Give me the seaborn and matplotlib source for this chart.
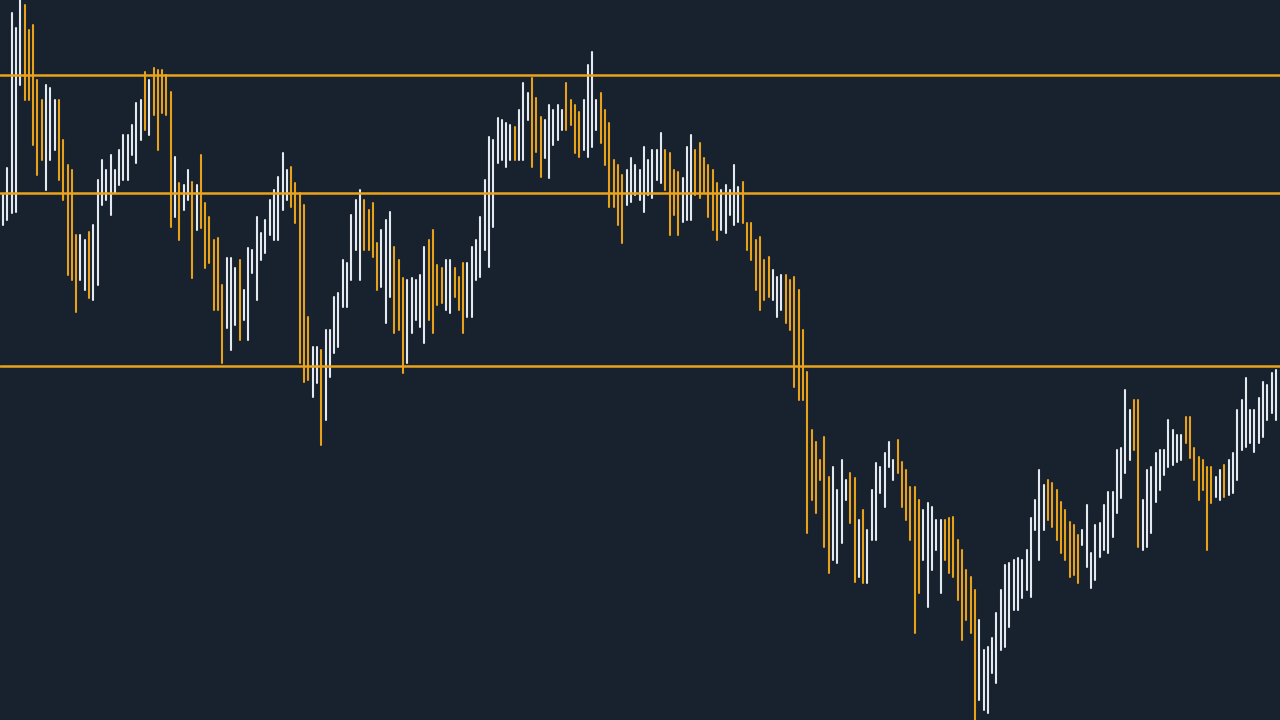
import matplotlib
matplotlib.use("Agg")
import matplotlib.pyplot as plt
import seaborn as sns
import pandas as pd
import numpy as np

sns.set_theme(style="dark")
plt.rcParams["font.family"] = ["DejaVu Sans"]

BG = "#18212e"
UP_COL = "#e4e9f0"
DOWN_COL = "#e8a21a"
LEVEL_COL = "#eaa31c"

# bar highs / lows (price)
highs = [
    1525, 1552, 1707, 1692, 1720, 1715, 1690, 1695, 1640, 1620,
    1635, 1632, 1620, 1620, 1580, 1555, 1550, 1485, 1485, 1480,
    1488, 1495, 1540, 1560, 1550, 1565, 1550, 1570, 1585, 1585,
    1595, 1617, 1620, 1648, 1640, 1652, 1650, 1650, 1645, 1628,
    1563, 1537, 1535, 1550, 1538, 1535, 1565, 1517, 1503, 1480,
    1482, 1435, 1462, 1462, 1452, 1460, 1430, 1472, 1470, 1503,
    1487, 1500, 1520, 1530, 1543, 1567, 1550, 1553, 1537, 1527,
    1515, 1403, 1373, 1373, 1370, 1390, 1390, 1423, 1427, 1460,
    1457, 1505, 1520, 1530, 1520, 1510, 1517, 1477, 1490, 1500,
    1508, 1473, 1460, 1442, 1440, 1442, 1440, 1445, 1473, 1480,
    1490, 1455, 1452, 1460, 1460, 1452, 1443, 1457, 1457, 1473,
    1480, 1503, 1540, 1583, 1580, 1602, 1600, 1597, 1595, 1593,
    1610, 1637, 1627, 1642, 1622, 1603, 1600, 1615, 1610, 1615,
    1610, 1637, 1620, 1615, 1608, 1620, 1655, 1668, 1620, 1627,
    1610, 1597, 1560, 1555, 1545, 1550, 1562, 1555, 1550,
    1573, 1560, 1570, 1570, 1587, 1570, 1567, 1550, 1548, 1542,
    1573, 1585, 1570, 1577, 1562, 1555, 1550, 1537, 1530,
    1535, 1530, 1555, 1533, 1538, 1497, 1497, 1480, 1483, 1460,
    1463, 1450, 1443, 1445, 1445, 1440, 1443, 1430, 1390, 1348,
    1290, 1278, 1260, 1283, 1243, 1253, 1230, 1260, 1240, 1247,
    1242, 1200, 1210, 1190, 1230, 1257, 1253, 1267, 1278, 1260,
    1280, 1258, 1250, 1233, 1233, 1220, 1210, 1217, 1213,
    1200, 1200, 1200, 1202, 1203, 1180, 1170, 1150, 1143, 1130,
    1100, 1070, 1073, 1082, 1107, 1130, 1155, 1157, 1160, 1162,
    1160, 1170, 1202, 1220, 1250, 1235, 1240, 1237,
    1230, 1218, 1210, 1198, 1195, 1185, 1190, 1215, 1167, 1195,
    1197, 1215, 1228, 1228, 1270, 1272, 1330, 1310,
    1320, 1320, 1220, 1250, 1253, 1267, 1270, 1270, 1300,
    1290, 1285, 1285, 1303, 1303, 1272, 1263, 1260, 1253,
    1253, 1243, 1250, 1255, 1260, 1267, 1310, 1320, 1342, 1310,
    1310, 1322, 1338, 1335, 1347, 1350,
]
lows = [
    1495, 1500, 1507, 1508, 1635, 1620, 1620, 1575, 1545, 1560,
    1530, 1560, 1570, 1540, 1520, 1445, 1440, 1408, 1440, 1430,
    1422, 1420, 1435, 1515, 1520, 1505, 1527, 1535, 1540, 1540,
    1565, 1557, 1580, 1590, 1585, 1605, 1570, 1607, 1605, 1493,
    1503, 1480, 1510, 1520, 1442, 1490, 1492, 1452, 1457, 1410,
    1410, 1357, 1392, 1370, 1395, 1380, 1400, 1380, 1447, 1420,
    1460, 1467, 1485, 1480, 1480, 1510, 1520, 1513, 1497, 1357,
    1338, 1340, 1323, 1337, 1275, 1300, 1343, 1367, 1373, 1413,
    1413, 1440, 1470, 1440, 1470, 1470, 1463, 1430, 1433, 1397,
    1423, 1387, 1390, 1347, 1357, 1387, 1400, 1393, 1377, 1400,
    1387, 1415, 1417, 1410, 1407, 1423, 1410, 1387, 1403, 1403,
    1440, 1443, 1470, 1453, 1493, 1557, 1560, 1553, 1560, 1560,
    1560, 1560, 1600, 1553, 1568, 1543, 1562, 1542, 1575, 1580,
    1590, 1590, 1595, 1567, 1563, 1570, 1563, 1573, 1590, 1577,
    1555, 1513, 1513, 1495, 1477, 1515, 1518, 1525, 1520,
    1508, 1525, 1522, 1540, 1537, 1530, 1485, 1505, 1485, 1498,
    1500, 1500, 1525, 1522, 1528, 1503, 1490, 1480, 1490,
    1487, 1505, 1495, 1498, 1497, 1470, 1460, 1430, 1410, 1420,
    1423, 1420, 1403, 1410, 1397, 1390, 1333, 1320, 1320, 1187,
    1220, 1207, 1240, 1173, 1147, 1160, 1157, 1177, 1220, 1197,
    1138, 1143, 1137, 1137, 1180, 1180, 1227, 1213, 1253, 1240,
    1247, 1213, 1200, 1180, 1087, 1127, 1160, 1113, 1150,
    1170, 1127, 1160, 1147, 1143, 1120, 1080, 1100, 1087, 1000,
    1020, 1010, 1007, 1047, 1037, 1070, 1073, 1093, 1110, 1110,
    1122, 1130, 1123, 1190, 1160, 1190, 1200, 1193,
    1180, 1167, 1160, 1143, 1145, 1137, 1175, 1153, 1132, 1140,
    1163, 1170, 1167, 1183, 1207, 1222, 1247, 1260,
    1270, 1173, 1170, 1173, 1187, 1218, 1230, 1245, 1253,
    1255, 1258, 1260, 1277, 1262, 1240, 1220, 1230, 1170,
    1217, 1223, 1220, 1223, 1225, 1227, 1240, 1270, 1273, 1277,
    1268, 1277, 1283, 1300, 1307, 1300,
]
# u = up bar (white), d = down bar (orange); chunks follow the rows above
dirs = list(
    "uuuuuddddd" "uuuddddduu" "duuuuuuuuu" "uuududdddd"
    "uduududddd" "dduuuduuuu" "uuuuuuuddd" "dduuduuuuu"
    "uuuudddduu" "uddduuuuud" "ddduuddduu" "uuuuuuuuud"
    "uuuddduuuu" "udddduuuud" "ddddduuuu" "uuuuuddddu"
    "uuddddddu" "uuuudddddd" "duuudddddd" "ddddduuuud"
    "duduuuuuuu" "dddddduuu" "uudddddddd" "uuuuuuuuuu"
    "uuuuuudd" "dddddduuuu" "uuuuuuuu" "dduuuuuuu"
    "uuudddddd" "duuduuuuuu" "uuuuuu"
)

levels = [1645, 1527, 1354]

n = len(highs)
df = pd.DataFrame({
    "bar": np.repeat(np.arange(n), 2),
    "price": np.column_stack([lows, highs]).ravel(),
    "dir": np.repeat(dirs, 2),
})

fig = plt.figure(figsize=(12.8, 7.2), dpi=100, facecolor=BG)
ax = fig.add_axes([0, 0, 1, 1])
ax.set_facecolor(BG)

sns.lineplot(
    data=df, x="bar", y="price", hue="dir", units="bar",
    estimator=None, sort=False, palette={"u": UP_COL, "d": DOWN_COL},
    linewidth=1.5, legend=False, ax=ax,
)

for lv in levels:
    ax.axhline(lv, color=LEVEL_COL, lw=1.8, zorder=5)

# first bar sits ~3px from the left edge, last ~4px from the right
step = 1273 / (n - 1)
ax.set_xlim(-3 / step, n - 1 + 4 / step)
ax.set_ylim(1000, 1720)
ax.set_axis_off()

fig.savefig("out.png", dpi=100, facecolor=BG)
print(len(highs), len(lows), len(dirs))
